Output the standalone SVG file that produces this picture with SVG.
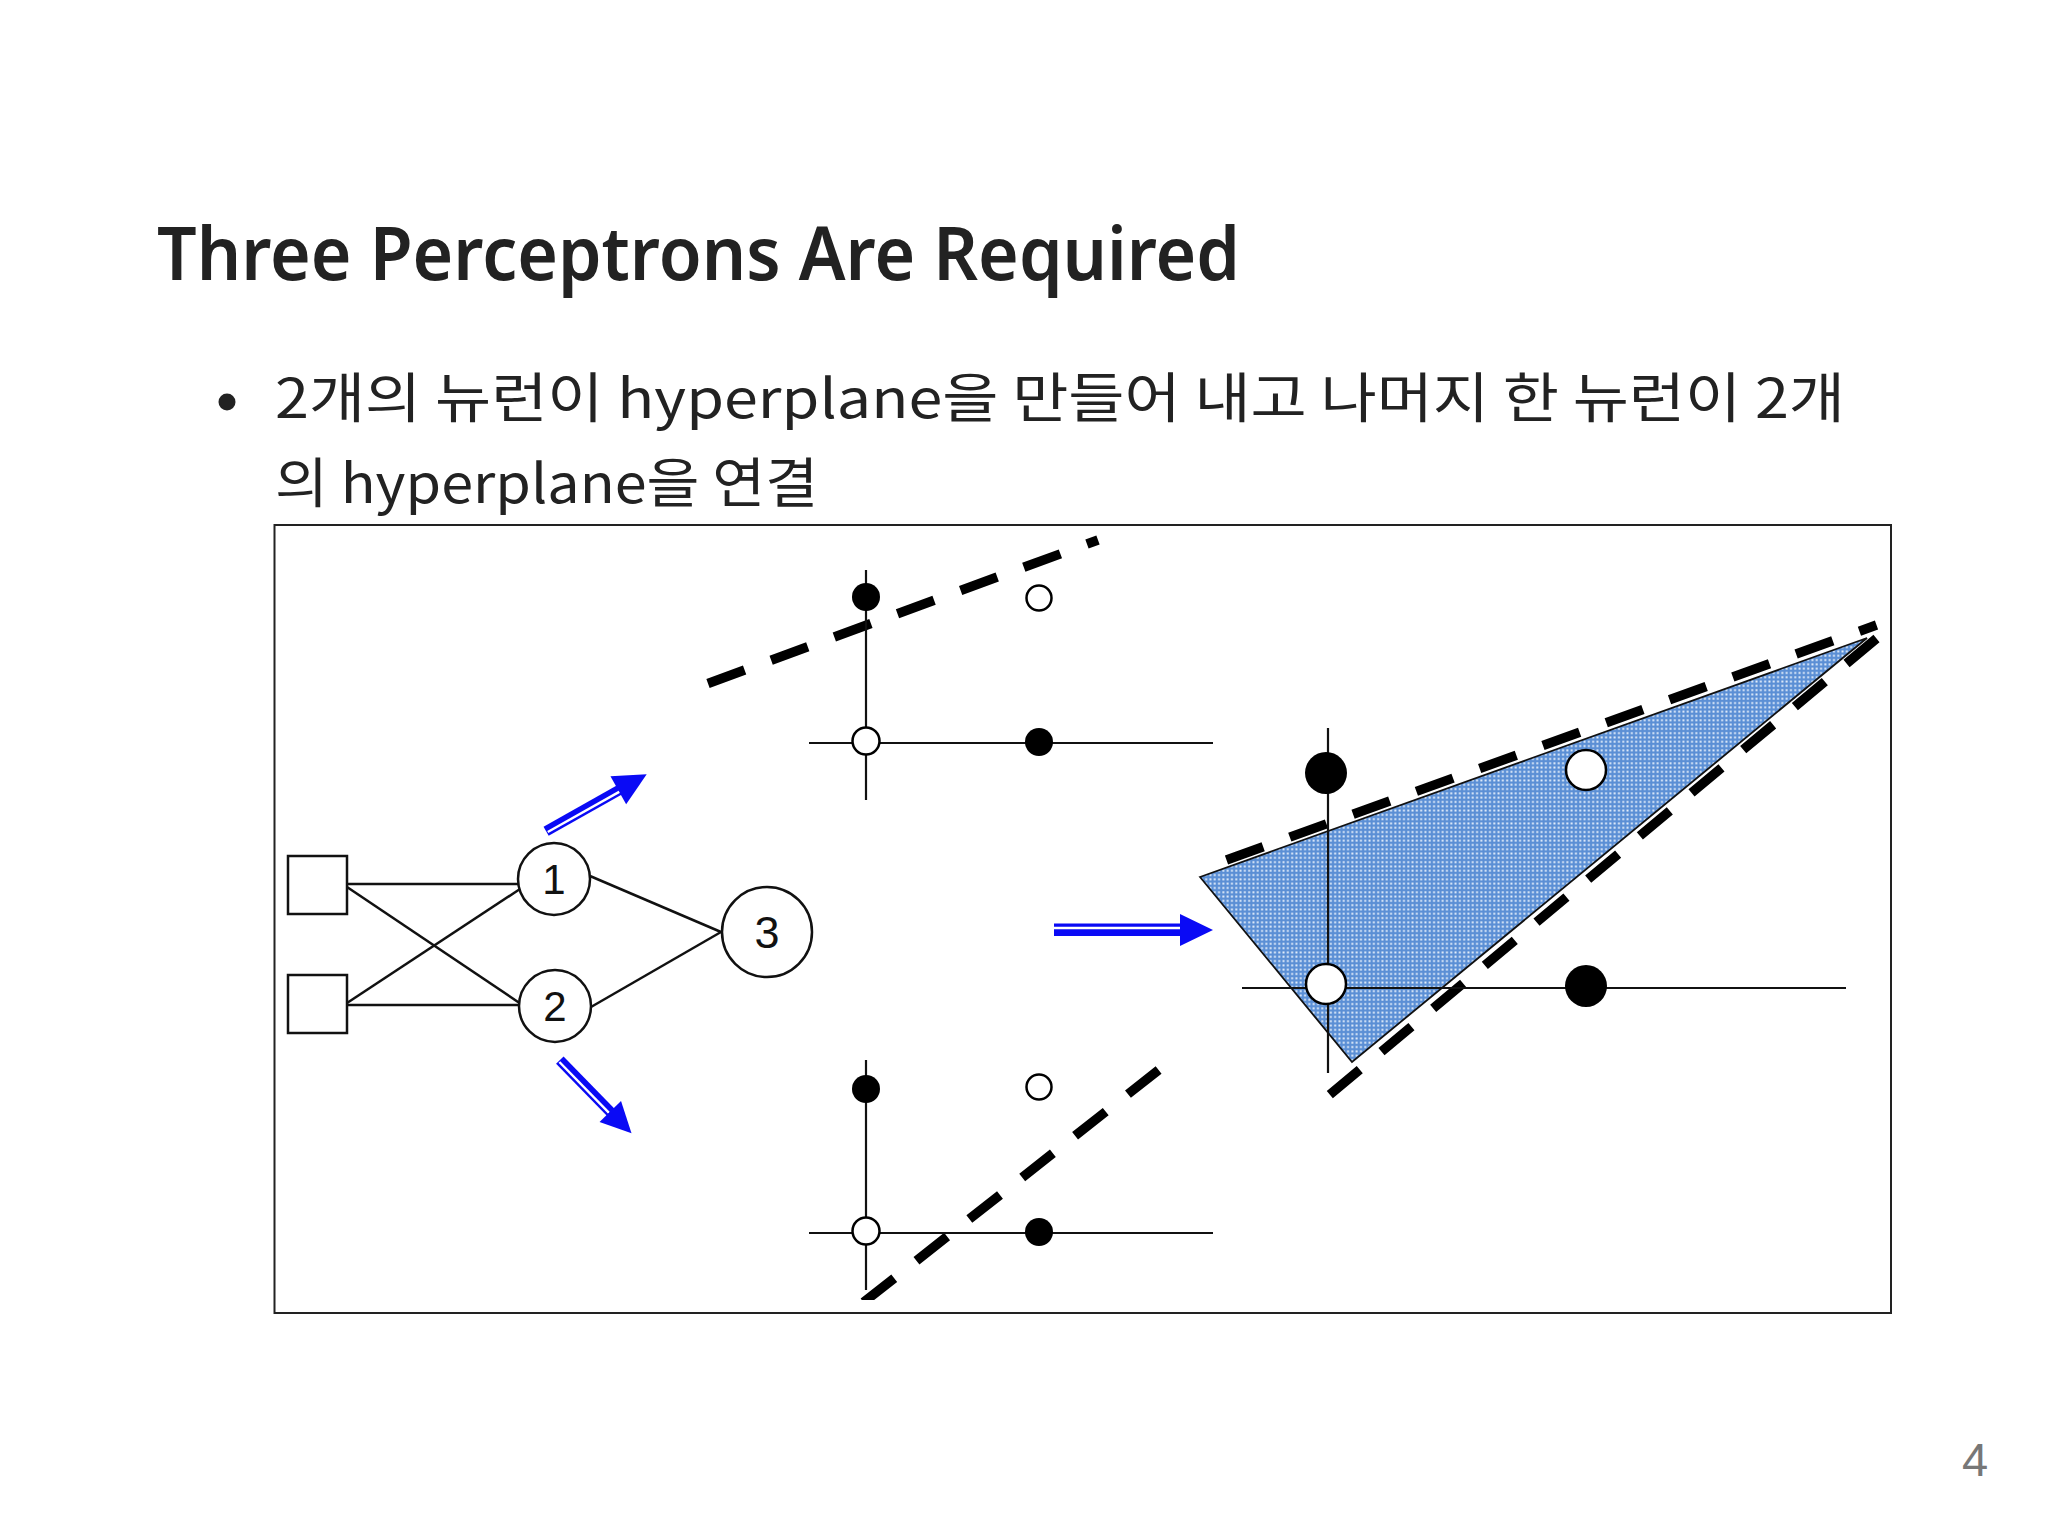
<svg xmlns="http://www.w3.org/2000/svg" width="2048" height="1536" viewBox="0 0 2048 1536">
<style>
.title{font-family:"Noto Sans","Liberation Sans",sans-serif;font-weight:600;font-size:74px;fill:#222}
.body{font-family:"Noto Sans CJK KR","Noto Sans",sans-serif;font-size:54px;fill:#222}
.num{font-family:"Liberation Sans",Arial,sans-serif;font-size:42px;fill:#111;text-anchor:middle}
.page{font-family:"Liberation Sans",Arial,sans-serif;font-size:47px;fill:#777;text-anchor:middle}
.ln{stroke:#111;stroke-width:2.5;fill:none}
.ax{stroke:#111;stroke-width:2.2;fill:none}
.node{stroke:#111;stroke-width:2.5;fill:#fff}
.fd{fill:#000}
.od{fill:#fff;stroke:#000;stroke-width:2.5}
.dash{stroke:#000;stroke-width:9.5;fill:none;stroke-dasharray:39 28.3}
.shaft{fill:#0a0af5}
.stripe{stroke:#fff;stroke-width:2.4}
</style>
<defs>
<pattern id="dots" width="4.3" height="4.3" patternUnits="userSpaceOnUse">
<rect width="4.3" height="4.3" fill="#5b8fd5"/>
<rect x="1.2" y="1.2" width="1.9" height="1.9" fill="#e8f1fc"/>
</pattern>
<clipPath id="clipImg"><rect x="276" y="527" width="1613" height="773"/></clipPath>
</defs>
<rect width="2048" height="1536" fill="#fff"/>

<g id="title"><text class="title" x="157" y="280" textLength="1083" lengthAdjust="spacingAndGlyphs">Three Perceptrons Are Required</text></g>
<g id="bullet">
<circle cx="227" cy="402" r="8.5" fill="#222"/>
<text class="body" x="275" y="418" textLength="1570" lengthAdjust="spacingAndGlyphs">2개의 뉴런이 hyperplane을 만들어 내고 나머지 한 뉴런이 2개</text>
<text class="body" x="275" y="503" textLength="543" lengthAdjust="spacingAndGlyphs">의 hyperplane을 연결</text>
</g>
<g id="page"><text class="page" x="1975" y="1476">4</text></g>

<g id="frame"><rect x="274.5" y="525" width="1616.5" height="788" fill="none" stroke="#222" stroke-width="2"/></g>

<g id="connectors">
<line class="ln" x1="347" y1="884" x2="519" y2="884"/>
<line class="ln" x1="347" y1="887" x2="521" y2="1004"/>
<line class="ln" x1="347" y1="1003" x2="520" y2="889"/>
<line class="ln" x1="347" y1="1005" x2="519" y2="1005"/>
<line class="ln" x1="590" y1="876" x2="721" y2="932"/>
<line class="ln" x1="591" y1="1007" x2="721" y2="932"/>
</g>

<g id="input1"><rect class="node" x="288" y="856" width="59" height="58"/></g>
<g id="input2"><rect class="node" x="288" y="975" width="59" height="58"/></g>
<g id="neuron1"><circle class="node" cx="554" cy="879" r="36"/><text class="num" x="554" y="894">1</text></g>
<g id="neuron2"><circle class="node" cx="555" cy="1006" r="36"/><text class="num" x="555" y="1021">2</text></g>
<g id="neuron3"><circle class="node" cx="767" cy="932" r="45"/><text class="num" x="767" y="948" style="font-size:45px">3</text></g>

<g id="arrow-up" transform="translate(546,831) rotate(-29.4)">
<rect class="shaft" x="0" y="-5" width="85" height="10.5"/>
<line class="stripe" x1="1" y1="1.8" x2="84" y2="1.8"/>
<polygon class="shaft" points="83,-16 115.6,0 83,16"/>
</g>
<g id="arrow-down" transform="translate(560,1060) rotate(45.7)">
<rect class="shaft" x="0" y="-5" width="73" height="10.5"/>
<line class="stripe" x1="1" y1="1.8" x2="72" y2="1.8"/>
<polygon class="shaft" points="72,-15 102.4,0 72,15"/>
</g>
<g id="arrow-right" transform="translate(1054,930)">
<rect class="shaft" x="0" y="-6.5" width="128" height="12.5"/>
<line class="stripe" x1="0" y1="-2" x2="127" y2="-2"/>
<polygon class="shaft" points="126,-16 159,0 126,16"/>
</g>

<g id="plot-top">
<line class="dash" x1="708" y1="683.5" x2="1098" y2="540"/>
<line class="ax" x1="866" y1="570" x2="866" y2="800"/>
<line class="ax" x1="809" y1="743" x2="1213" y2="743"/>
<circle class="fd" cx="866" cy="597" r="14"/>
<circle class="od" cx="1039" cy="598" r="12.5"/>
<circle class="od" cx="866" cy="741" r="13.5"/>
<circle class="fd" cx="1039" cy="742" r="14"/>
</g>

<g id="plot-bottom">
<line class="dash" x1="1158.6" y1="1070" x2="850" y2="1313" clip-path="url(#clipImg)"/>
<line class="ax" x1="866" y1="1060" x2="866" y2="1290"/>
<line class="ax" x1="809" y1="1233" x2="1213" y2="1233"/>
<circle class="fd" cx="866" cy="1089" r="14"/>
<circle class="od" cx="1039" cy="1087" r="12.5"/>
<circle class="od" cx="866" cy="1231" r="13.5"/>
<circle class="fd" cx="1039" cy="1232" r="14"/>
</g>

<g id="plot-combined">
<polygon points="1200,877 1867,638 1352,1062" fill="url(#dots)" stroke="#111" stroke-width="1.8"/>
<line class="dash" x1="1226.5" y1="860" x2="1876.5" y2="625" stroke-width="10.5"/>
<line class="dash" x1="1876.5" y1="638.5" x2="1327" y2="1097" stroke-width="10.5"/>
<line class="ax" x1="1328" y1="728" x2="1328" y2="1073"/>
<line class="ax" x1="1242" y1="988" x2="1846" y2="988"/>
<circle class="fd" cx="1326" cy="773" r="21"/>
<circle class="od" cx="1586" cy="770" r="20"/>
<circle class="od" cx="1326" cy="984" r="20"/>
<circle class="fd" cx="1586" cy="986" r="21"/>
</g>
</svg>
